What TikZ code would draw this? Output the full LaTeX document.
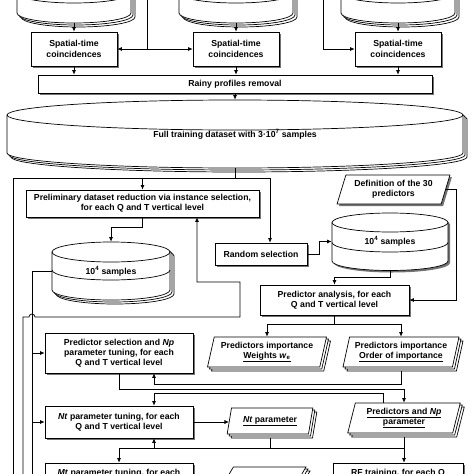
\documentclass[tikz,border=0pt]{standalone}
\usepackage{fontspec}
\setsansfont{Liberation Sans}
\usetikzlibrary{shapes.geometric, shadows, arrows.meta, positioning}

% cylinder body: cx, top line, bottom line, rx, ry
\newcommand{\drum}[6][draw,fill=white]{%
  \path[#1] (#2-#5,#3) -- (#2-#5,#4) arc[start angle=180,end angle=0,x radius=#5,y radius=#6]
    -- (#2+#5,#3) arc[start angle=0,end angle=-180,x radius=#5,y radius=#6] -- cycle;
}
\newcommand{\band}[4]{%
  \draw (#1-#3,#2) arc[start angle=180,end angle=0,x radius=#3,y radius=#4];
}
\newcommand{\stackdrum}[5]{%
  \drum{#1+4}{#2+4}{#3+4}{#4}{#5}
  \drum{#1+2}{#2+2}{#3+2}{#4}{#5}
  \drum{#1}{#2}{#3}{#4}{#5}
  \band{#1}{#2}{#4}{#5}
}

\begin{document}
\begin{tikzpicture}[x=1pt, y=-1pt, line width=0.7pt,
    >={Latex[length=4.5pt,width=4pt]},
    font=\sffamily\bfseries\fontsize{8.7}{10.3}\selectfont,
    procbox/.style={draw, fill=white, align=center, inner sep=1pt,
      drop shadow={shadow xshift=2pt, shadow yshift=-2pt, fill=black!55, opacity=1}},
    databox/.style={trapezium, trapezium left angle=75, trapezium right angle=105,
      trapezium stretches=true, draw, fill=white, align=center, inner sep=1pt},
    stacked/.style={copy shadow={shadow xshift=4pt, shadow yshift=-4pt, draw=black, fill=white},
      copy shadow={shadow xshift=2pt, shadow yshift=-2pt, draw=black, fill=white}},
    cyltext/.style={inner sep=0pt}]

  \useasboundingbox (0,0) rectangle (474,474);
  \fill[white] (0,0) rectangle (474,474);
  \clip (0,0) rectangle (474,474);

  % cylinders
  \stackdrum{74}{-30}{13}{57}{10}
  \band{74}{-7}{57}{10}
  \stackdrum{236}{-30}{13}{57}{10}
  \band{236}{-7}{57}{10}
  \stackdrum{398}{-30}{13}{57}{10}
  \band{398}{-7}{57}{10}

  \stackdrum{235}{115}{153}{228}{15}

  \stackdrum{111}{252}{290}{59}{10}
  \band{111}{270}{59}{10}

  \drum[fill=black!55]{392}{224.5}{263}{58}{9.5}
  \drum{390}{222.5}{261}{58}{9.5}
  \band{390}{222.5}{58}{9.5}
  \band{390}{242.5}{58}{9.5}

  \node[cyltext, minimum width=114pt, minimum height=46pt] (cyl1) at (74,0) {};
  \node[cyltext, minimum width=114pt, minimum height=46pt] (cyl2) at (236,0) {};
  \node[cyltext, minimum width=114pt, minimum height=46pt] (cyl3) at (398,0) {};
  \node[cyltext, minimum width=456pt, minimum height=68pt] (big) at (235,134)
    {Full training dataset with 3·10\textsuperscript{7} samples};
  \node[cyltext, minimum width=118pt, minimum height=58pt] (cylL) at (111,271)
    {10\textsuperscript{4} samples};
  \node[cyltext, minimum width=116pt, minimum height=57pt] (cylR) at (390,241.5)
    {10\textsuperscript{4} samples};

  % boxes
  \node[procbox, minimum width=86pt, minimum height=34pt] (st1) at (74,49) {Spatial-time\\coincidences};
  \node[procbox, minimum width=86pt, minimum height=34pt] (st2) at (236,49) {Spatial-time\\coincidences};
  \node[procbox, minimum width=86pt, minimum height=34pt] (st3) at (398,49) {Spatial-time\\coincidences};
  \node[procbox, minimum width=394pt, minimum height=18pt] (rainy) at (235,84) {Rainy profiles removal};

  \node[procbox, minimum width=233pt, minimum height=27pt] (prelim) at (142.5,203.5)
    {Preliminary dataset reduction via instance selection,\\for each Q and T vertical level};
  \node[procbox, minimum width=92pt, minimum height=22pt] (random) at (261,254) {Random selection};
  \node[databox, trapezium left angle=70, trapezium right angle=110, minimum width=113pt,
    minimum height=29pt, drop shadow={shadow xshift=2pt, shadow yshift=-2pt, fill=black!55, opacity=1}]
    (def) at (393.5,189.5) {Definition of the 30\\predictors};
  \node[procbox, minimum width=149pt, minimum height=30pt] (predan) at (334.5,300)
    {Predictor analysis, for each\\Q and T vertical level};

  \node[databox, stacked, minimum width=119pt, minimum height=30pt] (wts) at (267,352)
    {Predictors importance\\\underline{Weights \textit{w}\textsubscript{e}}};
  \node[databox, stacked, minimum width=116pt, minimum height=30pt] (ord) at (401,352)
    {Predictors importance\\\underline{Order of importance}};

  \node[procbox, minimum width=148pt, minimum height=40pt] (predsel) at (119,353)
    {Predictor selection and \textit{Np}\\parameter tuning, for each\\Q and T vertical level};
  \node[procbox, minimum width=148pt, minimum height=32pt] (nttune) at (119,422)
    {\textit{Nt} parameter tuning, for each\\Q and T vertical level};
  \node[databox, stacked, minimum width=86pt, minimum height=26pt] (ntpar) at (270,421)
    {\underline{\textit{Nt} parameter}};
  \node[databox, stacked, minimum width=113pt, minimum height=30pt] (prnp) at (404,418)
    {\underline{Predictors and \textit{Np}}\\\underline{parameter}};

  \node[procbox, minimum width=148pt, minimum height=32pt] (mt) at (119,479)
    {\textit{Mt} parameter tuning, for each\\\strut};
  \node[databox, stacked, minimum width=88pt, minimum height=26pt] (midpar) at (262,480) {};
  \node[procbox, minimum width=130pt, minimum height=32pt] (rf) at (398,479)
    {RF training, for each Q\\\strut};

  % connectors
  \coordinate (in1) at (147,-2);
  \coordinate (in2) at (323,-2);
  \draw[->] (in1) |- (st1.east);
  \draw[->] (in1) |- (st2.west);
  \draw[->] (in2) |- (st3.west);

  \draw[->] (cyl1.south) -- (st1.north);
  \draw[->] (cyl2.south) -- (st2.north);
  \draw[->] (cyl3.south) -- (st3.north);
  \draw[->] (st1.south) -- (st1.south |- rainy.north);
  \draw[->] (st2.south) -- (st2.south |- rainy.north);
  \draw[->] (st3.south) -- (st3.south |- rainy.north);
  \draw[->] (rainy.south) -- (big.north);

  \coordinate (busL) at (13,178);
  \coordinate (busR) at (270,178);
  \coordinate (leftA) at (13,480);
  \draw (big.south) -- (big.south |- busL);
  \draw (busL) -- (busR);
  \draw (busL) -- (leftA);
  \draw[->] (prelim.north |- busL) -- (prelim.north);
  \draw[->] (busR) -- (busR |- random.north);

  \draw[->] (prelim.south) -- ++(0,10) -| (cylL.north);
  \draw[->] (random.east) -- ++(12,0) |- (cylR.west);
  \draw[->] (cylR.south) -- ++(0,7) -| (predan.north);
  \draw[->] (def.east) -- ++(10,0) |- (predan.east);

  \draw (predan.south) -- ++(0,9) coordinate (pa);
  \draw[->] (pa) -| (wts.north);
  \draw[->] (pa) -| (ord.north);

  \coordinate (fbk) at (23,480);
  \draw[->] (fbk) -- (23,317) -- (29,317) arc[start angle=180,end angle=360,radius=3]
    -- (240,317) -- (240,282) -| ([xshift=54.5pt]prelim.south);

  \coordinate (leftB) at (32,480);
  \draw (cylL.west) -| (leftB);
  \draw[->] (predsel.west -| leftB) -- (predsel.west);
  \draw[->] (nttune.west -| leftB) -- (nttune.west);

  \coordinate (psin) at ([xshift=35pt]predsel.south);
  \draw[->] ([yshift=-4pt]ord.south) -- ++(0,13) -| (psin);
  \draw[->] (predsel.south) -- ++(0,16) -| (prnp.north);

  \coordinate (ntin) at ([xshift=35pt]nttune.north);
  \draw[->] ([xshift=-21pt]prnp.north) -- ++(0,-9) -| (ntin);
  \draw[->] (nttune.east) -- (nttune.east -| ntpar.west);

  \draw ([yshift=-4pt]ntpar.south) -- ++(0,10) coordinate (nj);
  \draw[->] (nj) -| (mt.north);
  \draw (nj) -- (nj -| prnp.south);
  \coordinate (ntout) at ([xshift=35pt]nttune.south);
  \draw[->] (ntout |- nj) -- (ntout);
  \draw[->] ([yshift=-4pt]prnp.south) -- (prnp.south |- rf.north);
\end{tikzpicture}
\end{document}
